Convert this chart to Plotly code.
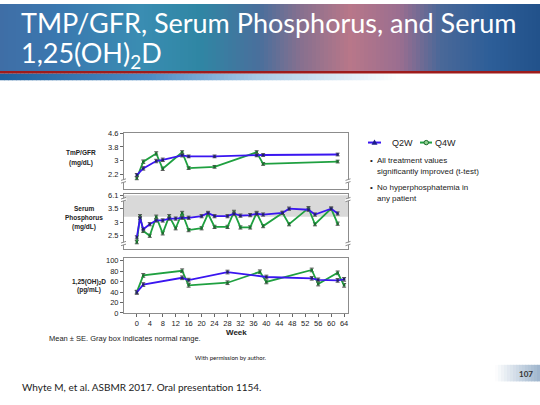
import plotly.graph_objects as go

W, H = 540, 405

# ---- data ----
tmp_weeks = [0, 2, 6, 8, 14, 16, 24, 37, 39, 62]
tmp_q2w = [2.16, 2.55, 2.98, 3.05, 3.31, 3.25, 3.25, 3.32, 3.33, 3.36]
tmp_q4w = [1.98, 2.94, 3.42, 2.53, 3.49, 2.57, 2.64, 3.49, 2.81, 2.95]
tmp_se = [0.09, 0.1, 0.1, 0.1, 0.09, 0.08, 0.08, 0.09, 0.08, 0.08]

phos_weeks = [0, 1, 2, 4, 6, 8, 10, 12, 14, 16, 20, 22, 24, 28, 30, 32,
              35, 37, 39, 45, 47, 53, 55, 60, 62]
phos_q2w = [2.43, 3.15, 2.73, 2.92, 3.06, 3.06, 3.13, 3.13, 3.16, 3.16, 3.22,
            3.34, 3.22, 3.22, 3.31, 3.24, 3.26, 3.31, 3.28, 3.34, 3.5, 3.46,
            3.28, 3.5, 3.32]
phos_q4w = [2.25, 3.22, 2.67, 2.49, 3.2, 2.58, 3.22, 2.77, 3.34, 2.7, 2.77,
            3.31, 2.82, 2.82, 3.38, 2.8, 2.8, 3.34, 2.85, 3.34, 2.92, 3.52,
            2.92, 3.5, 2.94]
phos_se = 0.06
phos_normal = [3.2, 6.1]
phos_ticks = [2.5, 3, 3.5, 6.1]
phos_break_pos = 4.0   # where the broken axis puts 6.1

vitd_weeks_q2w = [0, 2, 14, 16, 28, 40, 54, 56, 62, 64]
vitd_q2w = [39.5, 54.5, 67.5, 63, 78.5, 69, 66.5, 63.5, 62.5, 64.5]
vitd_weeks_q4w = [0, 2, 14, 16, 28, 38, 40, 54, 56, 62, 64]
vitd_q4w = [40, 72, 81, 53, 58, 79, 59.5, 82.5, 55.5, 77, 53]
vitd_se = 3.5

week_ticks = list(range(0, 65, 4))

BLUE = '#3a16f0'
GREEN = '#1fa040'
FONT = 'Liberation Sans'


def px(x):
    return x / W


def py(y):
    return 1 - y / H


def mix(c1, c2, t):
    a = [int(c1[i:i + 2], 16) for i in (1, 3, 5)]
    b = [int(c2[i:i + 2], 16) for i in (1, 3, 5)]
    return '#%02x%02x%02x' % tuple(round(a[k] + (b[k] - a[k]) * t) for k in range(3))


def gradient(stops, x0, x1, y0, y1, step=4):
    out = []
    x = x0
    while x < x1:
        xm = x + step / 2
        for (sa, ca), (sb, cb) in zip(stops, stops[1:]):
            if sa <= xm <= sb:
                col = mix(ca, cb, (xm - sa) / (sb - sa))
                break
        else:
            col = stops[-1][1]
        out.append(dict(type='rect', xref='paper', yref='paper', layer='below',
                        x0=px(x), x1=px(min(x + step + 0.5, x1)), y0=py(y1), y1=py(y0),
                        line=dict(width=0), fillcolor=col))
        x += step
    return out


fig = go.Figure()

err = dict(type='data', color='#555555', thickness=1, width=2)


def add_pair(wk2, v2, wk4, v4, se, ax):
    se2 = se if isinstance(se, list) else [se] * len(v2)
    se4 = se if isinstance(se, list) else [se] * len(v4)
    fig.add_trace(go.Scatter(x=wk4, y=v4, mode='lines+markers', xaxis='x' + ax, yaxis='y' + ax,
                             line=dict(color=GREEN, width=1.8),
                             marker=dict(size=2.5, color='#1d6b2e', symbol='square'),
                             error_y=dict(err, array=se4), showlegend=False))
    fig.add_trace(go.Scatter(x=wk2, y=v2, mode='lines+markers', xaxis='x' + ax, yaxis='y' + ax,
                             line=dict(color=BLUE, width=1.8),
                             marker=dict(size=2.5, color='#222266', symbol='square'),
                             error_y=dict(err, array=se2), showlegend=False))


add_pair(tmp_weeks, tmp_q2w, tmp_weeks, tmp_q4w, tmp_se, '')
add_pair(phos_weeks, phos_q2w, phos_weeks, phos_q4w, phos_se, '2')
add_pair(vitd_weeks_q2w, vitd_q2w, vitd_weeks_q4w, vitd_q4w, vitd_se, '3')

xdom = [px(124), px(348)]
xrange_ = [-3.95, 65.2]
box = dict(showline=True, mirror=True, linecolor='#8c8c8c', linewidth=1, zeroline=False,
           showgrid=False)
tickf = dict(family=FONT, size=7.5, color='#222222')

fig.update_layout(
    width=W, height=H, margin=dict(l=0, r=0, t=0, b=0),
    paper_bgcolor='white', plot_bgcolor='rgba(0,0,0,0)', showlegend=False,
    xaxis=dict(box, domain=xdom, range=xrange_, anchor='y', showticklabels=False, ticks=''),
    xaxis2=dict(box, domain=xdom, range=xrange_, anchor='y2', showticklabels=False, ticks=''),
    xaxis3=dict(box, domain=xdom, range=xrange_, anchor='y3', tickvals=week_ticks,
                ticks='outside', ticklen=3, tickcolor='#666666', tickfont=tickf),
    yaxis=dict(box, domain=[py(189), py(132)], range=[1.36, 4.61], anchor='x',
               tickvals=[2.2, 3, 3.8, 4.6], ticktext=['2.2', '3', '3.8', '4.6'],
               ticks='outside', ticklen=3, tickcolor='#666666', tickfont=tickf),
    yaxis2=dict(box, domain=[py(251), py(194.5)], range=[1.98, 4.04], anchor='x2',
                tickvals=[2.5, 3, 3.5, phos_break_pos],
                ticktext=[str(t) for t in phos_ticks],
                ticks='outside', ticklen=3, tickcolor='#666666', tickfont=tickf),
    yaxis3=dict(box, domain=[py(316), py(260)], range=[0, 105], anchor='x3',
                tickvals=[0, 20, 40, 60, 80, 100],
                ticks='outside', ticklen=3, tickcolor='#666666', tickfont=tickf),
)

shapes = []

# title banner
shapes += gradient([(0, '#3f6ea6'), (60, '#3a78b0'), (140, '#3a8db2'), (200, '#2f86a4'),
                    (260, '#4a6f9c'), (300, '#86708f'), (350, '#b87789'), (400, '#9a6e90'),
                    (440, '#4a6898'), (490, '#2d5e98'), (540, '#22528a')], 0, W, 0, 69)
shapes.append(dict(type='rect', xref='paper', yref='paper', x0=0, x1=1, y0=py(71), y1=py(68.5),
                   line=dict(width=0), fillcolor='#9e1b1b'))
shapes += gradient([(0, '#1e5f9c'), (150, '#4d8cc4'), (260, '#a9cbe6'), (400, '#ffffff'),
                    (540, '#ffffff')], 0, 400, 71, 78)
# page number box
shapes += gradient([(495, '#ffffff'), (540, '#9db4cc')], 495, W, 369, 386, step=3)

# normal range of serum phosphorus
shapes.append(dict(type='rect', xref='x2 domain', yref='y2', x0=0, x1=1,
                   y0=phos_normal[0], y1=phos_break_pos, layer='below',
                   line=dict(width=0), fillcolor='#d9d9d9'))

# axis break marks
for bx in (123.5, 348):
    for by in (181, 200, 245):
        shapes.append(dict(type='rect', xref='paper', yref='paper', x0=px(bx - 3), x1=px(bx + 3),
                           y0=py(by + 1.3), y1=py(by - 1.3), line=dict(width=0),
                           fillcolor='white'))
        for dy in (-1.4, 1.4):
            shapes.append(dict(type='line', xref='paper', yref='paper',
                               x0=px(bx - 2.5), x1=px(bx + 2.5),
                               y0=py(by + dy + 0.8), y1=py(by + dy - 0.8),
                               line=dict(color='#8c8c8c', width=1)))

# legend icons
shapes.append(dict(type='line', xref='paper', yref='paper', x0=px(368), x1=px(381),
                   y0=py(141.7), y1=py(141.7), line=dict(color=BLUE, width=2)))
shapes.append(dict(type='path', xref='paper', yref='paper',
                   path='M %f %f L %f %f L %f %f Z' % (px(371.5), py(144), px(377.5), py(144),
                                                      px(374.5), py(138.5)),
                   fillcolor='#1c1c8a', line=dict(width=0)))
shapes.append(dict(type='line', xref='paper', yref='paper', x0=px(420), x1=px(432),
                   y0=py(141.7), y1=py(141.7), line=dict(color=GREEN, width=2)))
shapes.append(dict(type='circle', xref='paper', yref='paper', x0=px(424), x1=px(428.5),
                   y0=py(144), y1=py(139.5), fillcolor='#8fd08f',
                   line=dict(color='#1d6b2e', width=1)))

fig.update_layout(shapes=shapes)

ann = []


def text(t, x, y, size, xanchor='left', color='#222222', family=FONT, bold=False):
    if bold:
        t = '<b>' + t + '</b>'
    ann.append(dict(text=t, x=px(x), y=py(y), xref='paper', yref='paper', xanchor=xanchor,
                    yanchor='middle', showarrow=False,
                    font=dict(family=family, size=size, color=color)))


# title
text('TMP/GFR, Serum Phosphorus, and Serum', 19, 19, 27, color='white', family='Lato')
text('1,25(OH)<sub>2</sub>D', 19, 52, 27, color='white', family='Lato')

# y-axis titles
text('TmP/GFR', 81, 152, 6.5, 'center', bold=True)
text('(mg/dL)', 81, 163, 6.5, 'center', bold=True)
text('Serum', 84, 209, 6.5, 'center', bold=True)
text('Phosphorus', 84, 218.5, 6.5, 'center', bold=True)
text('(mg/dL)', 84, 228, 6.5, 'center', bold=True)
text('1,25(OH)<sub>2</sub>D', 89, 284, 6.5, 'center', bold=True)
text('(pg/mL)', 89, 293, 6.5, 'center', bold=True)

text('Week', 236, 336, 8, 'center', bold=True)
text('Mean ± SE. Gray box indicates normal range.', 47, 342, 7.5)

# legend and notes
text('Q2W', 390, 142, 9)
text('Q4W', 432.5, 142, 9)
text('•', 368, 160, 8)
text('All treatment values', 375, 160, 8)
text('significantly improved (t-test)', 375, 171, 8)
text('•', 368, 188, 8)
text('No hyperphosphatemia in', 375, 188, 8)
text('any patient', 375, 198.5, 8)

# footer
text('With permission by author.', 231, 362, 6, 'center', color='#111111', family='Lato')
text('107', 535, 378, 8, 'right', color='#333333', family='Lato', bold=True)
text('Whyte M, et al. ASBMR 2017. Oral presentation 1154.', 20, 392, 10,
     color='#222222', family='Lato')

fig.update_layout(annotations=ann)

fig.write_html('out.html', config={'displayModeBar': False},
               post_script="document.body.style.margin='0px';")
